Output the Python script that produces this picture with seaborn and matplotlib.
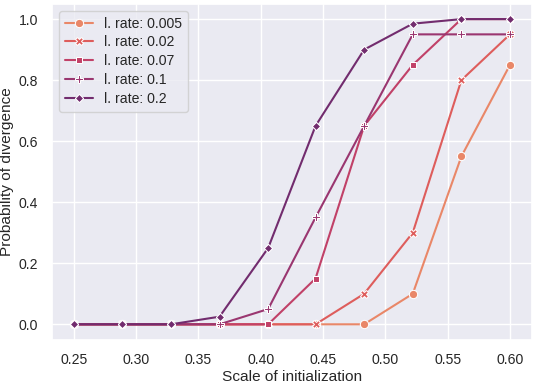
import matplotlib
matplotlib.use('Agg')
import matplotlib.pyplot as plt
import pandas as pd
import seaborn as sns

# Scale of initialization (x axis)
scales = [0.25, 0.289, 0.328, 0.367, 0.406, 0.444, 0.483, 0.522, 0.561, 0.6]

# Probability of divergence per learning rate
lr_labels = ['l. rate: 0.005', 'l. rate: 0.02', 'l. rate: 0.07', 'l. rate: 0.1', 'l. rate: 0.2']
p_005 = [0, 0, 0, 0, 0, 0, 0, 0.1, 0.55, 0.85]
p_02 = [0, 0, 0, 0, 0, 0, 0.1, 0.3, 0.8, 0.95]
p_07 = [0, 0, 0, 0, 0, 0.15, 0.65, 0.85, 1.0, 1.0]
p_1 = [0, 0, 0, 0, 0.05, 0.35, 0.65, 0.95, 0.95, 0.95]
p_2 = [0, 0, 0, 0.025, 0.25, 0.65, 0.9, 0.985, 1.0, 1.0]

series = [p_005, p_02, p_07, p_1, p_2]
rows = []
for label, vals in zip(lr_labels, series):
    for x, y in zip(scales, vals):
        rows.append({'scale': x, 'prob': y, 'lr': label})
df = pd.DataFrame(rows)

sns.set_theme(style='darkgrid', font_scale=0.92)
plt.rcParams['font.family'] = ['Liberation Sans', 'DejaVu Sans']

fig, ax = plt.subplots(figsize=(5.35, 3.85), dpi=100)
sns.lineplot(data=df, x='scale', y='prob', hue='lr', style='lr',
             markers=True, dashes=False, palette='flare', ax=ax,
             markersize=6)

ax.set_xlabel('Scale of initialization', labelpad=2)
ax.set_ylabel('Probability of divergence', labelpad=3)
ax.tick_params(axis='both', pad=4)
ax.legend(title=None, loc='upper left', labelspacing=0.35)

fig.subplots_adjust(left=0.097, right=0.994, top=0.99, bottom=0.118)
plt.savefig('out.png', dpi=100)
plt.close()
